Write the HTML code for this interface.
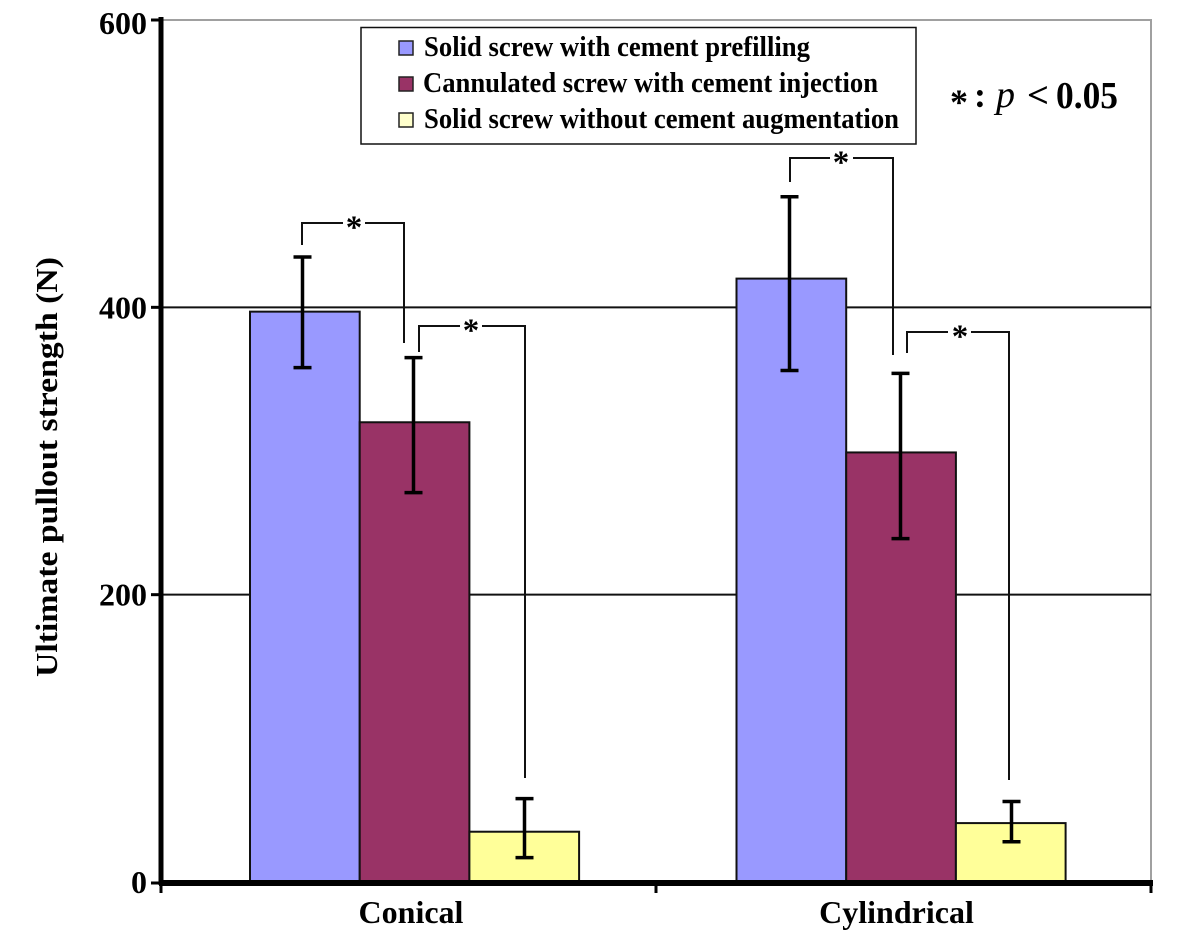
<!DOCTYPE html>
<html>
<head>
<meta charset="utf-8">
<title>Ultimate pullout strength</title>
<style>
html,body{margin:0;padding:0;background:#fff;width:1200px;height:938px;overflow:hidden}
svg{display:block}
text{font-family:"Liberation Serif",serif;fill:#000;font-weight:bold}
</style>
</head>
<body>
<svg id="chart" width="1200" height="938" viewBox="0 0 1200 938" xmlns="http://www.w3.org/2000/svg">
  <rect x="161" y="20" width="990" height="862" fill="#fff" stroke="#a0a0a0" stroke-width="2"/>
  <g id="grid"></g>
  <g id="bars"></g>
  <g id="errors"></g>
  <g id="axes"></g>

  <g fill="none" stroke="#111" stroke-width="2">
    <path d="M302 245V223H343M365 223H404V343"/>
    <path d="M419 352V326H460M482 326H525V778"/>
    <path d="M790 182V158H830M853 158H893V355"/>
    <path d="M907 353V332H948M971 332H1009V780"/>
  </g>
  <g font-size="33" text-anchor="middle">
    <text x="354" y="238">*</text>
    <text x="471" y="341">*</text>
    <text x="841" y="173">*</text>
    <text x="960" y="347">*</text>
  </g>

  <g>
    <rect x="361" y="27.500" width="555" height="116.500" fill="#fff" stroke="#111" stroke-width="1.500"/>
    <rect x="399" y="41" width="14" height="14" fill="#9999ff" stroke="#222" stroke-width="1.500"/>
    <text x="424" y="56" font-size="28" textLength="386" lengthAdjust="spacingAndGlyphs">Solid screw with cement prefilling</text>
    <rect x="399" y="77" width="14" height="14" fill="#993366" stroke="#222" stroke-width="1.500"/>
    <text x="423" y="92" font-size="28" textLength="455" lengthAdjust="spacingAndGlyphs">Cannulated screw with cement injection</text>
    <rect x="399" y="113" width="14" height="14" fill="#ffffcc" stroke="#222" stroke-width="1.500"/>
    <text x="424" y="128" font-size="28" textLength="475" lengthAdjust="spacingAndGlyphs">Solid screw without cement augmentation</text>
  </g>

  <g>
    <text x="950" y="114" font-size="36">*</text>
    <text x="974" y="107" font-size="36">:</text>
    <text x="996" y="107" font-size="38" style="font-weight:normal;font-style:italic">p</text>
    <text x="1027" y="107" font-size="36" textLength="22" lengthAdjust="spacingAndGlyphs">&lt;</text>
    <text x="1056" y="108" font-size="38" textLength="62" lengthAdjust="spacingAndGlyphs">0.05</text>
  </g>

  <text transform="translate(57,467) rotate(-90)" text-anchor="middle" font-size="31" textLength="420" lengthAdjust="spacingAndGlyphs">Ultimate pullout strength (N)</text>
</svg>

<script>
var categories = ["Conical", "Cylindrical"];
var seriesNames = ["solid-prefilling", "cannulated-injection", "solid-no-cement"];
var seriesColors = ["#9999ff", "#993366", "#ffff99"];
var solidPrefilling = [397, 420];
var cannulatedInjection = [320, 299];
var solidNoCement = [35, 41];
var solidPrefillingLow = [358, 356];
var solidPrefillingHigh = [435, 477];
var cannulatedInjectionLow = [271, 239];
var cannulatedInjectionHigh = [365, 354];
var solidNoCementLow = [17, 28];
var solidNoCementHigh = [58, 56];
var yTicks = [0, 200, 400, 600];

var NS = "http://www.w3.org/2000/svg";
var values = [solidPrefilling, cannulatedInjection, solidNoCement];
var lows = [solidPrefillingLow, cannulatedInjectionLow, solidNoCementLow];
var highs = [solidPrefillingHigh, cannulatedInjectionHigh, solidNoCementHigh];

var plotLeft = 161, plotRight = 1151, plotBottom = 882, plotTop = 20;
function yScale(v) { return plotBottom - (v / 600) * (plotBottom - plotTop); }
var groupStart = 250, groupStep = 486.5, barWidth = 109.7;
function xBar(c, s) { return groupStart + c * groupStep + s * barWidth; }
function xError(c, s) { return 302.5 + c * 487 + s * 111; }

function make(tag, attrs, parent) {
  var el = document.createElementNS(NS, tag);
  for (var k in attrs) el.setAttribute(k, attrs[k]);
  parent.appendChild(el);
  return el;
}

var grid = document.getElementById("grid");
var barsG = document.getElementById("bars");
var errorsG = document.getElementById("errors");
var axesG = document.getElementById("axes");

yTicks.forEach(function (t) {
  if (t === 0 || t === 600) return;
  var line = make("line", { x1: plotLeft, x2: plotRight, y1: yScale(t), y2: yScale(t), stroke: "#111", "stroke-width": 2 }, grid);
  
  
});

categories.forEach(function (cat, c) {
  values.forEach(function (series, s) {
    var x = xBar(c, s);
    var bar = make("rect", {
      x: x, y: yScale(series[c]), width: barWidth, height: plotBottom - yScale(series[c]),
      fill: seriesColors[s], stroke: "#111", "stroke-width": 2
    }, barsG);
    
    

    var cx = xError(c, s);
    var yLow = yScale(lows[s][c]), yHigh = yScale(highs[s][c]);
    var err = make("path", {
      d: "M" + cx + " " + yLow + "V" + yHigh + "M" + (cx - 9) + " " + yLow + "H" + (cx + 9) + "M" + (cx - 9) + " " + yHigh + "H" + (cx + 9),
      fill: "none", stroke: "#000", "stroke-width": 3.500
    }, errorsG);
    
    
  });

  var label = make("text", {
    x: c === 0 ? 411 : 896.5, y: 923, "text-anchor": "middle", "font-size": 32
  }, axesG);
  label.textContent = cat;
  
  
});

var yAxis = make("line", { x1: 161, x2: 161, y1: 17, y2: 885, stroke: "#000", "stroke-width": 5 }, axesG);



var xAxis = make("line", { x1: 159, x2: 1153, y1: 883, y2: 883, stroke: "#000", "stroke-width": 6 }, axesG);



yTicks.forEach(function (t) {
  var y = yScale(t);
  var tick = make("line", { x1: 151, x2: 161, y1: y + (t === 0 ? 1 : 0), y2: y + (t === 0 ? 1 : 0), stroke: "#000", "stroke-width": 3 }, axesG);
  
  

  var lab = make("text", { x: 147, y: y + (t === 600 ? 14 : 11), "text-anchor": "end", "font-size": 32 }, axesG);
  lab.textContent = String(t);
  
  
});

for (var i = 0; i <= categories.length; i++) {
  var tx = plotLeft + i * (plotRight - plotLeft) / categories.length;
  var xt = make("line", { x1: tx, x2: tx, y1: 883, y2: 893, stroke: "#000", "stroke-width": 3 }, axesG);
  
  
}
</script>
</body>
</html>
